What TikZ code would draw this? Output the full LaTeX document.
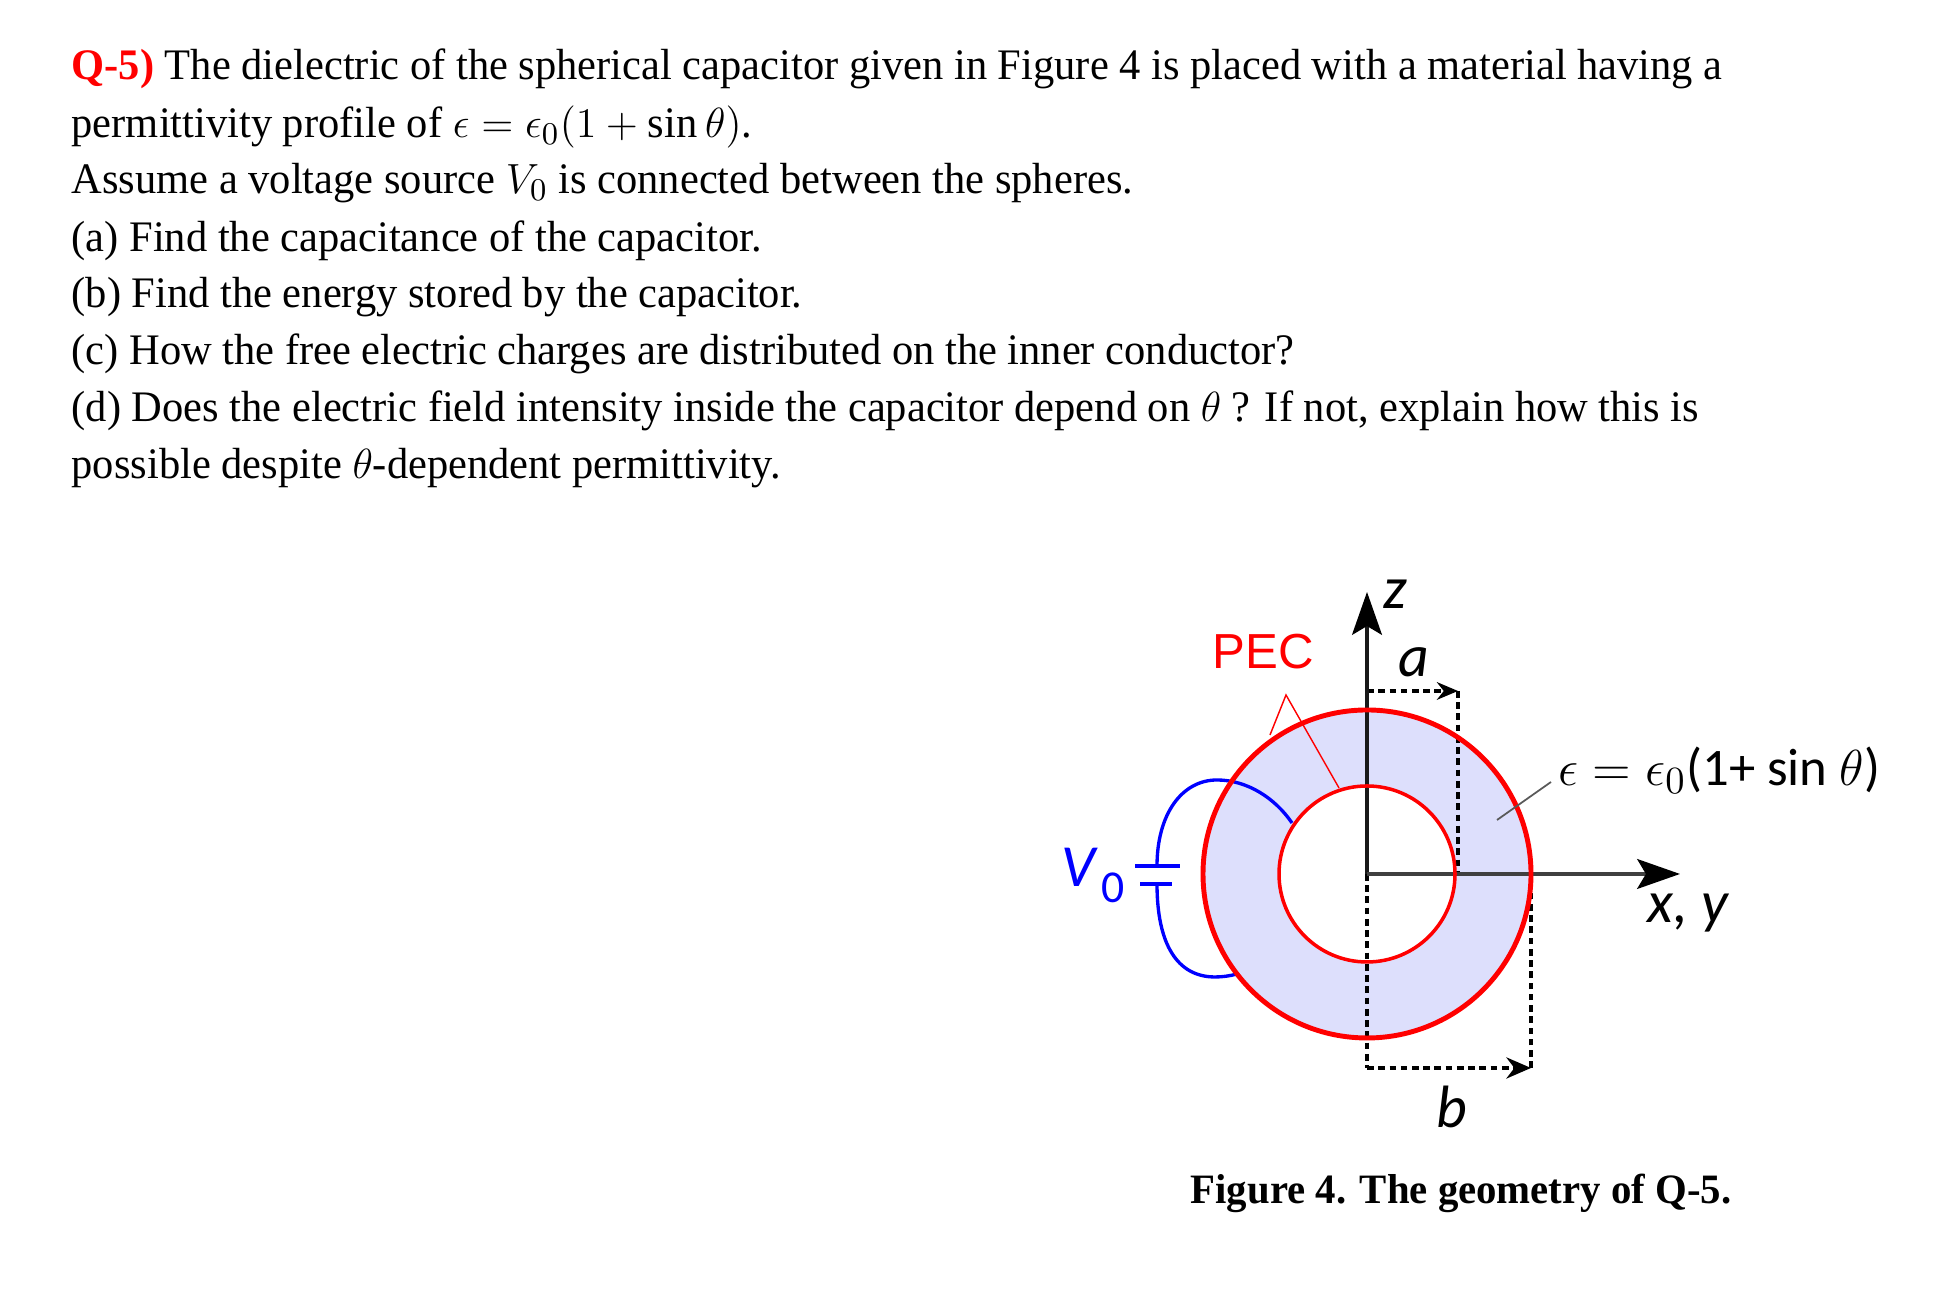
\documentclass[tikz,border=0pt]{standalone}
\usepackage{amsmath}
\usepackage{fontspec}
\setmainfont[Ligatures=TeX,FakeStretch=0.975]{Liberation Serif}
\newfontfamily\labelfont{Carlito}
\newfontfamily\pecfont{Liberation Sans}
\usetikzlibrary{arrows.meta}

\tikzset{
    textline/.style={anchor=base west, inner sep=0pt, font=\fontsize{12.4}{15}\selectfont},
    axisline/.style={black!75, line width=0.9pt, -{Stealth[black, length=12.2pt, width=8.5pt, inset=2.5pt]}},
    dimline/.style={line width=1.1pt, dash pattern=on 1.9pt off 1.3pt},
    labeltext/.style={inner sep=0pt, font=\labelfont\itshape\fontsize{17}{20}\selectfont},
    wireline/.style={wireblue, line width=0.95pt}
}

\begin{document}
\begin{tikzpicture}
    % Define colors
    \definecolor{pecred}{RGB}{255,0,0}
    \definecolor{wireblue}{RGB}{0,0,255}
    \definecolor{dielectric}{RGB}{221,223,252}

    \useasboundingbox (0,0) rectangle (19.57,13.06);

    % Question text
    \node[textline] (line1) at (0.71,12.26) {\textcolor{pecred}{\textbf{Q-5)}} The dielectric of the spherical capacitor given in Figure 4 is placed with a material having a};
    \node[textline] (line2) at (0.71,11.68) {permittivity profile of $\epsilon=\epsilon_0(1+\sin\theta)$.};
    \node[textline] (line3) at (0.71,11.12) {Assume a voltage source $V_0$ is connected between the spheres.};
    \node[textline] (line4) at (0.71,10.54) {(a) Find the capacitance of the capacitor.};
    \node[textline] (line5) at (0.71,9.98) {(b) Find the energy stored by the capacitor.};
    \node[textline] (line6) at (0.71,9.41) {(c) How the free electric charges are distributed on the inner conductor?};
    \node[textline] (line7) at (0.71,8.84) {(d) Does the electric field intensity inside the capacitor depend on $\theta$ ? If not, explain how this is};
    \node[textline] (line8) at (0.71,8.27) {possible despite $\theta$-dependent permittivity.};

    % Caption
    \node[textline, font=\fontsize{11.9}{15}\selectfont\bfseries] (caption) at (11.90,1.02) {Figure 4. The geometry of Q-5.};

    \begin{scope}[shift={(13.67,4.32)}]
        % Dielectric between the spheres
        \fill[dielectric, even odd rule] (0,0) circle (1.64) (0,0) circle (0.88);

        % Dimension lines
        \draw[dimline] (0.91,1.83) -- (0.91,0);
        \draw[dimline, -{Stealth[length=6pt, width=5pt]}] (0,1.83) -- (0.91,1.83);
        \draw[dimline] (0,0) -- (0,-1.94);
        \draw[dimline, -{Stealth[length=7pt, width=6pt]}] (0,-1.94) -- (1.64,-1.94);
        \draw[dimline] (1.64,-1.94) -- (1.64,0);

        % Axes
        \coordinate (origin) at (0,0);
        \draw[axisline, black!90] (origin) -- (0,2.82) coordinate (ztip);
        \draw[axisline] (origin) -- (3.13,0) coordinate (xtip);
        \node[labeltext] (zlabel) at (0.28,2.80) {z};
        \node[labeltext] (xylabel) at (3.21,-0.39) {x, y};
        \node[labeltext] (alabel) at (0.47,2.12) {a};
        \node[labeltext] (blabel) at (0.85,-2.33) {b};

        % Wires to the source
        \coordinate (plateA) at (-2.10,0.08);
        \coordinate (plateB) at (-2.10,-0.10);
        \draw[wireline] (plateA) .. controls (-2.10,0.60) and (-1.85,0.94) .. (-1.50,0.94)
            .. controls (-1.20,0.94) and (-0.92,0.76) .. (-0.75,0.51);
        \draw[wireline] (plateB) .. controls (-2.10,-0.70) and (-1.90,-1.03) .. (-1.52,-1.03)
            .. controls (-1.45,-1.03) and (-1.37,-1.02) .. (-1.30,-1.00);
        \draw[wireblue, line width=1.3pt] (-2.32,0.08) -- (-1.87,0.08);
        \draw[wireblue, line width=1.3pt] (-2.27,-0.10) -- (-1.95,-0.10);
        \node[labeltext, wireblue] (vlabel) at (-2.89,0.07) {V};
        \node[labeltext, wireblue, font=\labelfont\fontsize{13}{15}\selectfont] (vzero) at (-2.54,-0.14) {0};

        % Spheres
        \draw[pecred, line width=1.4pt] (0,0) circle (1.64);
        \draw[pecred, line width=1pt] (0,0) circle (0.88);

        % PEC pointer
        \node[inner sep=0pt, pecred, font=\pecfont\fontsize{14}{16}\selectfont] (peclabel) at (-1.04,2.22) {PEC};
        \coordinate (pecapex) at (-0.81,1.79);
        \draw[pecred, line width=0.4pt] (-0.97,1.39) -- (pecapex) -- (-0.28,0.86);

        % Permittivity label
        \node[anchor=base west, inner sep=0pt, font=\labelfont\fontsize{15}{18}\selectfont] (permlabel) at (1.91,0.88) {$\epsilon=\epsilon_0$(1+ sin $\theta$)};
        \coordinate (permend) at (1.30,0.54);
        \draw[black!65, line width=0.5pt] (permend) -- (1.84,0.92);
    \end{scope}
\end{tikzpicture}
\end{document}
